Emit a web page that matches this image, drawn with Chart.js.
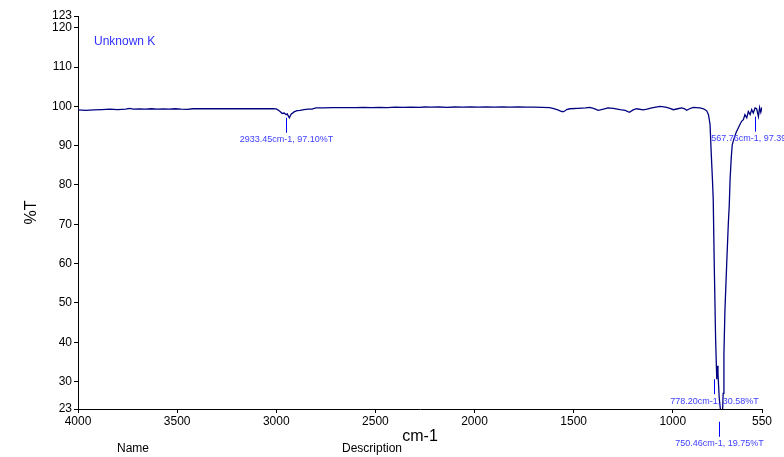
<!DOCTYPE html>
<html>
<head>
<meta charset="utf-8">
<script src="https://cdn.jsdelivr.net/npm/chart.js@4/dist/chart.umd.min.js"></script>
<style>
  body { margin: 0; background: #fff; }
</style>
</head>
<body>
<canvas id="spectrum" width="784" height="457"></canvas>
<script>
// wavenumbers (cm-1) and transmittance (%T)
const wavenumbers = [4000, 3960, 3920, 3880, 3840, 3800, 3760, 3740, 3720, 3690, 3660, 3630, 3600, 3570, 3540, 3510, 3480, 3450, 3420, 3380, 3340, 3300, 3260, 3220, 3180, 3140, 3100, 3060, 3020, 3000,
  2985, 2970, 2960, 2950, 2945, 2934, 2925, 2910, 2895, 2880, 2860, 2840, 2820, 2800, 2760, 2720, 2680, 2640, 2600, 2560, 2520, 2480, 2440, 2400, 2360, 2320, 2280, 2250, 2220, 2180, 2140, 2100, 2060, 2020,
  1980, 1940, 1900, 1860, 1820, 1780, 1740, 1700, 1660, 1620, 1600, 1580, 1560, 1550, 1535, 1520, 1480, 1440, 1418, 1400, 1376, 1350, 1327, 1300, 1266, 1240, 1219, 1200, 1182, 1149, 1130, 1106, 1085, 1064, 1045, 1031, 1015,
  997, 975, 955, 940, 930, 915, 897, 880, 863, 845, 837, 828, 820, 812, 806, 800, 796, 791, 784, 778.2, 775, 772, 766, 758, 750.46, 746, 742, 737, 728, 720, 715, 711, 705, 700, 690, 680, 665, 653, 644, 636, 627, 619, 610, 602, 594, 585, 577, 568, 562, 556, 550];
const transmittance = [99.1, 99.0, 99.1, 99.2, 99.3, 99.2, 99.3, 99.5, 99.3, 99.35, 99.3, 99.4, 99.3, 99.35, 99.3, 99.4, 99.3, 99.25, 99.4, 99.4, 99.4, 99.4, 99.4, 99.4, 99.45, 99.4, 99.4, 99.4, 99.4, 99.35,
  98.9, 98.2, 98.3, 97.9, 98.1, 97.1, 98.0, 98.6, 98.9, 99.0, 99.2, 99.3, 99.3, 99.6, 99.6, 99.7, 99.7, 99.7, 99.7, 99.75, 99.7, 99.75, 99.7, 99.8, 99.75, 99.8, 99.75, 99.85, 99.8, 99.85, 99.75, 99.85, 99.8, 99.9,
  99.8, 99.85, 99.8, 99.85, 99.8, 99.85, 99.8, 99.8, 99.75, 99.7, 99.4, 99.1, 98.7, 98.65, 99.2, 99.4, 99.5, 99.6, 99.75, 99.5, 99.0, 99.3, 99.6, 99.5, 99.15, 99.0, 98.5, 99.1, 99.4, 99.1, 99.3, 99.6, 99.8, 100.0, 99.9, 99.75, 99.5,
  99.15, 99.4, 99.6, 99.4, 99.0, 99.4, 99.75, 99.7, 99.6, 99.4, 99.15, 98.8, 97.9, 95.4, 88, 81.4, 76.3, 60.3, 40.8, 30.58, 34, 32, 26, 22, 19.75, 27, 37, 48, 60, 70, 75, 81.4, 87, 90.3, 92, 93.4, 95.0, 96.2, 96.6, 97.9, 97.1, 98.7, 97.9, 99.2, 98.3, 99.6, 99.4, 97.39, 99.7, 98.5, 99.8];

// labelled peaks
const peakWavenumbers = [2933.45, 778.20, 750.46, 567.76];
const peakValues = [97.10, 30.58, 19.75, 97.39];

const xTicks = [4000, 3500, 3000, 2500, 2000, 1500, 1000, 550];
const yTicks = [23, 30, 40, 50, 60, 70, 80, 90, 100, 110, 120, 123];

const FONT = "'Liberation Sans', Arial, sans-serif";

const extras = {
  id: 'extras',
  afterDraw(chart) {
    const ctx = chart.ctx;
    const xs = chart.scales.x, ys = chart.scales.y;
    const area = chart.chartArea;
    ctx.save();
    // peak markers
    ctx.font = '9px ' + FONT;
    ctx.textAlign = 'center';
    ctx.textBaseline = 'middle';
    peakWavenumbers.forEach((w, i) => {
      const px = Math.round(xs.getPixelForValue(w)) - 2.5;
      const py = ys.getPixelForValue(peakValues[i]);
      ctx.strokeStyle = '#0000ff';
      ctx.lineWidth = 1;
      ctx.beginPath();
      ctx.moveTo(px, py);
      ctx.lineTo(px, py + 15);
      ctx.stroke();
      ctx.fillStyle = '#4040ff';
      ctx.fillText(w.toFixed(2) + 'cm-1, ' + peakValues[i].toFixed(2) + '%T', px, py + 22);
    });
    // sample name
    ctx.font = '12px ' + FONT;
    ctx.textAlign = 'left';
    ctx.fillStyle = '#3030ff';
    ctx.fillText('Unknown K', area.left + 16, area.top + 26);
    // footer
    ctx.fillStyle = '#000';
    ctx.textAlign = 'center';
    ctx.fillText('Name', 133, 449);
    ctx.fillText('Description', 372, 449);
    ctx.restore();
  }
};

new Chart(document.getElementById('spectrum'), {
  type: 'line',
  data: {
    datasets: [{
      data: wavenumbers.map((w, i) => ({ x: w, y: transmittance[i] })),
      borderColor: '#000080',
      borderWidth: 1.3,
      pointRadius: 0,
      fill: false,
      tension: 0
    }]
  },
  options: {
    responsive: false,
    animation: false,
    devicePixelRatio: 1,
    layout: { padding: { left: 0, right: 22, top: 16, bottom: 0 } },
    plugins: { legend: { display: false }, tooltip: { enabled: false } },
    scales: {
      x: {
        type: 'linear',
        reverse: true,
        min: 550,
        max: 4000,
        afterBuildTicks: s => { s.ticks = xTicks.map(v => ({ value: v })); },
        afterFit: s => { s.height = 48; },
        grid: { drawOnChartArea: false, drawTicks: true, tickLength: 4, color: '#000' },
        border: { display: true, color: '#000', width: 1 },
        ticks: { autoSkip: false, maxRotation: 0, padding: 1, color: '#000', font: { family: FONT, size: 12 }, callback: v => String(v) },
        title: { display: true, text: 'cm-1', color: '#000', font: { family: FONT, size: 16 }, padding: { top: 0, bottom: 11 } }
      },
      y: {
        min: 23,
        max: 123,
        afterBuildTicks: s => { s.ticks = yTicks.map(v => ({ value: v })); },
        afterFit: s => { s.width = 78; },
        grid: { drawOnChartArea: false, drawTicks: true, tickLength: 4, color: '#000' },
        border: { display: true, color: '#000', width: 1 },
        ticks: { autoSkip: false, padding: 2, color: '#000', font: { family: FONT, size: 12 }, callback: v => String(v) },
        title: { display: true, text: '%T', color: '#000', font: { family: FONT, size: 16 }, padding: { top: 22, bottom: 0 } }
      }
    }
  },
  plugins: [extras]
});
</script>
</body>
</html>
